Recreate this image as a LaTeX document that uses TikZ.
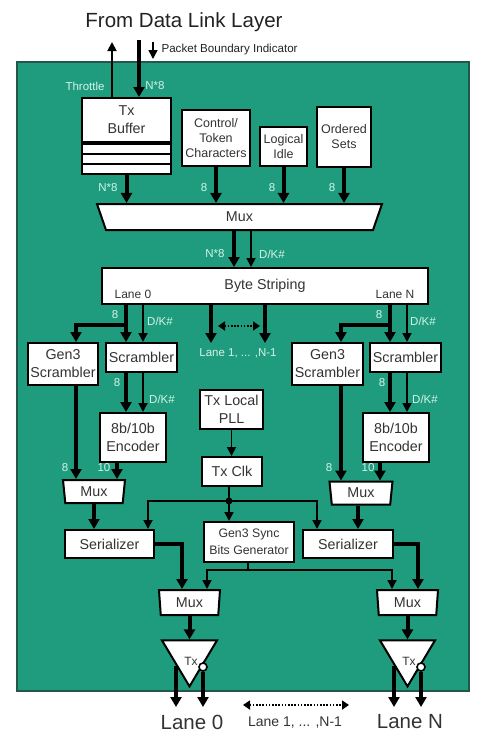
\documentclass[tikz,border=0pt]{standalone}
\usepackage{fontspec}
\setmainfont{Liberation Sans}
\usepackage{tikz}
\usetikzlibrary{arrows.meta,positioning,calc,shapes.geometric}
\definecolor{pcsgreen}{HTML}{1F9B7E}
\definecolor{pcsedge}{HTML}{24574A}
\definecolor{pcslab}{HTML}{D2F4E8}
\definecolor{pcstext}{HTML}{333333}
\definecolor{pcsdark}{HTML}{222222}
\newcommand{\bxfont}{\fontsize{14.3}{18}\selectfont}
\newcommand{\sbxfont}{\fontsize{12.5}{15}\selectfont}
\newcommand{\gsfont}{\fontsize{12.3}{17}\selectfont}
\newcommand{\lblfont}{\fontsize{11.5}{13}\selectfont}
\newcommand{\inlfont}{\fontsize{12}{14}\selectfont}
\newcommand{\ttlfont}{\fontsize{20.5}{24}\selectfont}
\newcommand{\pbifont}{\fontsize{11.6}{14}\selectfont}
\newcommand{\midfont}{\fontsize{14}{16}\selectfont}
\tikzset{
  blk/.style     = {draw=black, line width=2pt, fill=white, text=pcstext,
                    font=\bxfont, align=center, inner sep=0pt},
  sblk/.style    = {blk, font=\sbxfont},
  muxbox/.style  = {blk, trapezium, shape border rotate=180,
                    trapezium stretches body, trapezium left angle=#1,
                    trapezium right angle=#1},
  txtri/.style   = {draw=black, line width=2pt, fill=white, isosceles triangle,
                    isosceles triangle stretches, shape border rotate=-90,
                    inner sep=0pt},
  bubble/.style  = {circle, draw=black, line width=1.6pt, fill=white,
                    minimum size=8pt, inner sep=0pt},
  bus/.style     = {line width=4pt, -{Triangle[length=10pt,width=11pt]}},
  sig/.style     = {line width=1.8pt, -{Triangle[length=9pt,width=9pt]}},
  buswire/.style = {line width=4pt},
  sigwire/.style = {line width=1.8pt},
  dotarr/.style  = {line width=2.6pt, dash pattern=on 1.6pt off 1.6pt,
                    {Triangle[length=7pt,width=9pt]}-{Triangle[length=7pt,width=9pt]}},
  lab/.style     = {text=pcslab, font=\lblfont, inner sep=1pt},
}
\begin{document}
\begin{tikzpicture}[x=1pt,y=-1pt]
  \useasboundingbox (0,0) rectangle (494,742);
  \draw[draw=pcsedge, fill=pcsgreen, line width=1.4pt] (17,62) rectangle (469,691);

  % from the data link layer
  \node[font=\ttlfont, text=pcsdark] (dll) at (184,22) {From Data Link Layer};
  \coordinate (thr) at (112,42);
  \coordinate (din) at (139,40);
  \coordinate (pbia) at (153,42);
  \coordinate (pbib) at (153,59);
  \node[font=\pbifont, text=pcsdark, anchor=west] (pbil) at (158,49) {Packet Boundary Indicator};

  % buffer and symbol sources
  \node[blk, minimum width=89pt, minimum height=44pt] (txbuf) at (126.5,120) {Tx\\Buffer};
  \node[blk, minimum width=89pt, minimum height=30pt, below=0pt of txbuf] (txq) {};
  \draw[line width=2pt] ([yshift=5pt]txq.west) -- ([yshift=5pt]txq.east);
  \draw[line width=2pt] ([yshift=-5pt]txq.west) -- ([yshift=-5pt]txq.east);
  \node[sblk, minimum width=68pt, minimum height=56pt] (ctrl) at (216,138) {Control/\\Token\\Characters};
  \node[sblk, minimum width=47pt, minimum height=39pt] (idle) at (283.5,146.5) {Logical\\Idle};
  \node[sblk, minimum width=54pt, minimum height=60pt] (oset) at (344,137) {Ordered\\Sets};
  \node[muxbox=48, minimum width=285pt, minimum height=26pt] (mux1) at (239.5,217) {Mux};

  \draw[sig] (thr |- txbuf.north) -- (thr);
  \draw[bus] (din) -- (din |- txbuf.north);
  \draw[sig, line width=1.4pt] (pbia) -- (pbib);
  \node[lab] (thrl) at (85,86) {Throttle};
  \node[lab] (dinl) at (155,86) {N*8};
  \foreach \src in {txq,ctrl,idle,oset}
    \draw[bus] (\src.south) -- (\src.south |- mux1.north);
  \node[lab] at (108,188) {N*8};
  \node[lab] at (204,188) {8};
  \node[lab] at (272,188) {8};
  \node[lab] at (332,188) {8};

  % byte striping
  \node[blk, minimum width=326pt, minimum height=36pt] (bstripe) at (265,286) {Byte Striping};
  \node[font=\inlfont, text=pcstext] (bsl0) at (133,294) {Lane 0};
  \node[font=\inlfont, text=pcstext] (bsln) at (395,294) {Lane N};
  \draw[bus] (234,0 |- mux1.south) -- (234,0 |- bstripe.north);
  \draw[sig] (251,0 |- mux1.south) -- (251,0 |- bstripe.north);
  \node[lab] at (215,254) {N*8};
  \node[lab] at (272,254) {D/K\#};

  % per-lane blocks
  \node[blk, minimum width=71pt, minimum height=29pt] (scr0) at (141.5,357.5) {Scrambler};
  \node[blk, minimum width=70pt, minimum height=42pt] (g3s0) at (63,364) {Gen3\\Scrambler};
  \node[blk, minimum width=71pt, minimum height=29pt] (scr1) at (405.5,357.5) {Scrambler};
  \node[blk, minimum width=71pt, minimum height=42pt] (g3s1) at (327.5,364) {Gen3\\Scrambler};
  \node[blk, minimum width=66pt, minimum height=49pt] (enc0) at (133,437.5) {8b/10b\\Encoder};
  \node[blk, minimum width=66pt, minimum height=49pt] (enc1) at (396,437.5) {8b/10b\\Encoder};
  \node[muxbox=77, minimum width=62pt, minimum height=23pt] (muxa) at (94,491.5) {Mux};
  \node[muxbox=77, minimum width=63pt, minimum height=23pt] (muxb) at (361,493) {Mux};
  \node[blk, minimum width=89pt, minimum height=28pt] (ser0) at (109.5,544) {Serializer};
  \node[blk, minimum width=90pt, minimum height=28pt] (ser1) at (348,544) {Serializer};

  \coordinate (br0) at (126,325);
  \coordinate (br1) at (390,325);
  \draw[bus] (br0 |- bstripe.south) -- (br0 |- scr0.north);
  \draw[bus] (br0) -| (76,0 |- g3s0.north);
  \draw[sig] (143,0 |- bstripe.south) -- (143,0 |- scr0.north);
  \draw[bus] (br1 |- bstripe.south) -- (br1 |- scr1.north);
  \draw[bus] (br1) -| (341,0 |- g3s1.north);
  \draw[sig] (407,0 |- bstripe.south) -- (407,0 |- scr1.north);
  \node[lab] at (115,315) {8};
  \node[lab] at (160,321) {D/K\#};
  \node[lab] at (379,315) {8};
  \node[lab] at (423,321) {D/K\#};

  \coordinate (mida) at (211,343);
  \coordinate (midb) at (265,343);
  \coordinate (dla) at (218,326);
  \coordinate (dlb) at (260,326);
  \draw[bus] (mida |- bstripe.south) -- (mida);
  \draw[bus] (midb |- bstripe.south) -- (midb);
  \draw[dotarr] (dla) -- (dlb);
  \node[lab] (midl) at (238,353) {Lane 1, ... ,N-1};

  \draw[bus] (126,0 |- scr0.south) -- (126,0 |- enc0.north);
  \draw[sig] (143,0 |- scr0.south) -- (143,0 |- enc0.north);
  \draw[bus] (390,0 |- scr1.south) -- (390,0 |- enc1.north);
  \draw[sig] (407,0 |- scr1.south) -- (407,0 |- enc1.north);
  \node[lab] at (117,383) {8};
  \node[lab] at (162,399) {D/K\#};
  \node[lab] at (382,383) {8};
  \node[lab] at (425,399) {D/K\#};

  \draw[bus] (76,0 |- g3s0.south) -- (76,0 |- muxa.north);
  \draw[bus] (117,0 |- enc0.south) -- (117,0 |- muxa.north);
  \draw[bus] (341,0 |- g3s1.south) -- (341,0 |- muxb.north);
  \draw[bus] (380,0 |- enc1.south) -- (380,0 |- muxb.north);
  \node[lab] at (65,468) {8};
  \node[lab] at (104,468) {10};
  \node[lab] at (329,468) {8};
  \node[lab] at (368,468) {10};
  \draw[bus] (muxa.south) -- (muxa.south |- ser0.north);
  \draw[bus] (358,0 |- muxb.south) -- (358,0 |- ser1.north);

  % clocking
  \node[blk, minimum width=63pt, minimum height=39pt] (pll) at (231.5,409.5) {Tx Local\\PLL};
  \node[blk, minimum width=60pt, minimum height=29pt] (txclk) at (232,471.5) {Tx Clk};
  \node[blk, font=\gsfont, minimum width=90pt, minimum height=40pt] (g3sync) at (249,542) {Gen3 Sync\\Bits Generator};
  \draw[sig] (pll.south) -- (pll.south |- txclk.north);
  \coordinate (jn) at (229,501);
  \draw[sigwire] (jn |- txclk.south) -- (jn);
  \draw[sig] (jn) -| (148,0 |- ser0.north);
  \draw[sig] (jn) -- (jn |- g3sync.north);
  \draw[sig] (jn) -| (317,0 |- ser1.north);
  \fill (jn) circle[radius=3.5];

  % output muxes and drivers
  \node[muxbox=80, minimum width=61pt, minimum height=25pt] (muxc) at (189.5,602.5) {Mux};
  \node[muxbox=80, minimum width=61pt, minimum height=25pt] (muxd) at (407.5,602.5) {Mux};
  \draw[bus] (ser0.east) -| (182,0 |- muxc.north);
  \draw[bus] (ser1.east) -| (418,0 |- muxd.north);
  \coordinate (gs) at (248,570);
  \draw[sigwire] (gs |- g3sync.south) -- (gs);
  \draw[sig] (gs) -| (207,0 |- muxc.north);
  \draw[sig] (gs) -| (392,0 |- muxd.north);

  \node[txtri, minimum width=55pt, minimum height=46pt, anchor=apex] (txa) at (189.5,689) {};
  \node[txtri, minimum width=55pt, minimum height=46pt, anchor=apex] (txb) at (407.5,689) {};
  \node[font=\inlfont, text=pcstext] (txal) at (191,661) {Tx};
  \node[font=\inlfont, text=pcstext] (txbl) at (409,661) {Tx};
  \node[bubble] (buba) at (203,667) {};
  \node[bubble] (bubb) at (421,667) {};
  \draw[bus] (muxc.south) -- (muxc.south |- txa.north);
  \draw[bus] (muxd.south) -- (muxd.south |- txb.north);

  \coordinate (oa) at (176,666);
  \coordinate (ob) at (394,666);
  \coordinate (oend) at (0,707);
  \draw[bus] (oa) -- (oa |- oend);
  \draw[bus] (buba.south) -- (buba.south |- oend);
  \draw[bus] (ob) -- (ob |- oend);
  \draw[bus] (bubb.south) -- (bubb.south |- oend);

  % lanes
  \node[font=\ttlfont, text=pcstext] (lane0) at (192,722) {Lane 0};
  \node[font=\ttlfont, text=pcstext] (lanen) at (410,722) {Lane N};
  \node[font=\midfont, text=pcstext] (lanes) at (295,723) {Lane 1, ... ,N-1};
  \coordinate (bda) at (243,705);
  \coordinate (bdb) at (349,705);
  \draw[dotarr] (bda) -- (bdb);
\end{tikzpicture}
\end{document}
